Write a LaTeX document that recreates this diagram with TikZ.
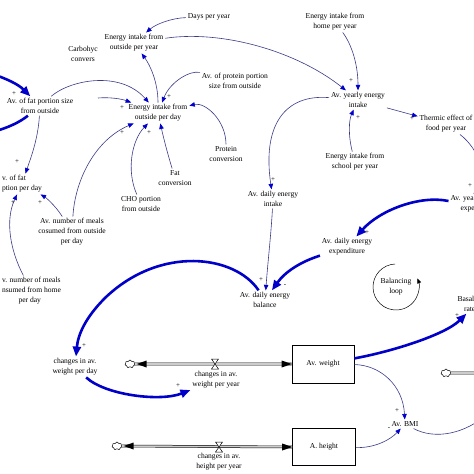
\documentclass[tikz,border=0pt]{standalone}
\usepackage{fontspec}
\setmainfont{Liberation Serif}
\usetikzlibrary{arrows.meta,shapes.symbols}
\definecolor{linkc}{HTML}{3A3A8A}
\definecolor{headc}{HTML}{0000CC}
\definecolor{thickc}{HTML}{0000C8}
\begin{document}
\begin{tikzpicture}[x=1bp,y=-1bp,
  lbl/.style={align=center,inner sep=0.5bp,outer sep=1.5bp,font=\fontsize{7.6}{10}\selectfont},
  lbll/.style={lbl,align=left,anchor=west},
  pol/.style={inner sep=0pt,font=\fontsize{7}{8}\selectfont},
  thinlink/.style={draw=linkc,line width=0.6bp,-{Triangle[length=5.5bp,width=4.5bp,color=headc]}},
  thicklink/.style={draw=thickc,line width=2.6bp,-{Triangle[length=10bp,width=8bp,color=thickc]}},
  stockbox/.style={draw,line width=0.6bp,minimum width=62bp,minimum height=38bp,inner sep=0pt,font=\fontsize{7.6}{10}\selectfont},
  pipe/.style={draw=black,double=gray!40,double distance=1.6bp,line width=0.5bp},
  cloudn/.style={cloud,draw,cloud puffs=7,aspect=1.3,minimum width=10bp,minimum height=8bp,inner sep=0pt,line width=0.5bp},
  valve/.style={draw,fill=white,line width=0.5bp}]
\useasboundingbox (0,0) rectangle (474,474);
\clip (0,0) rectangle (474,474);
% nodes
\node[lbl] (dpy) at (209,17) {Days per year};
\node[lbl] (eiopy) at (134,43) {Energy intake from\\outside per year};
\node[lbl] (carb) at (83,54) {Carbohyc\\convers};
\node[lbl] (prot) at (235,81) {Av. of protein portion\\size from outside};
\node[lbl] (eiopd) at (158,113) {Energy intake from\\outside per day};
\node[lbl] (fatsize) at (40,106) {Av. of fat portion size\\from outside};
\node[lbll] (fatday) at (0,184) {v. of fat\\ption per day};
\node[lbl] (mealsout) at (72,232) {Av. number of meals\\cosumed from outside\\per day};
\node[lbll] (mealshome) at (0,291) {v. number of meals\\nsumed from home\\\hspace*{16.5bp}per day};
\node[lbl] (cho) at (141,204) {CHO portion\\from outside};
\node[lbl] (fatconv) at (175,178) {Fat\\conversion};
\node[lbl] (protconv) at (226,154) {Protein\\conversion};
\node[lbl] (eihpy) at (335,22) {Energy intake from\\home per year};
\node[lbl] (ayei) at (358,100) {Av. yearly energy\\intake};
\node[lbl] (thermic) at (446,124) {Thermic effect of\\food per year};
\node[lbl] (eisy) at (355,162) {Energy intake from\\school per year};
\node[lbl] (adei) at (273,199) {Av. daily energy\\intake};
\node[lbll] (aye) at (448.5,204) {Av. yea\\\hspace*{10bp}expe};
\node[lbl] (ade) at (347,247) {Av. daily energy\\expenditure};
\node[lbl] (adeb) at (265,300) {Av. daily energy\\balance};
\node[lbl] (bl) at (396,287) {Balancing\\loop};
\node[lbll] (bmr) at (455.5,304) {Basal\\\hspace*{6.5bp}rate};
\node[lbl] (cwpd) at (75,367) {changes in av.\\weight per day};
\node[lbl] (cwpy) at (216,380) {changes in av.\\weight per year};
\node[lbl] (chpy) at (219,462) {changes in av.\\height per year};
\node[lbl] (bmi) at (405,424) {Av. BMI};
\node[stockbox] (aw) at (323,364) {Av. weight};
\node[stockbox,minimum height=37bp,minimum width=63bp] (ah) at (324,447) {A. height};
\node[cloudn] (cw) at (130,364) {};
\node[cloudn] (ch) at (117,446) {};
\node[cloudn] (cr) at (446,373) {};
\coordinate (vw) at (215,364);
\coordinate (vh) at (219,447);
\coordinate (offr) at (480,373);
\coordinate (j2s) at (98,98);
\coordinate (t1in) at (-8,74);
\coordinate (t1out) at (-8,132);
\coordinate (bmiout) at (492,410);
% pipes
\draw[pipe] (cw.east) -- (aw.west);
\draw[pipe] (ch.east) -- (ah.west);
\draw[pipe] (cr.east) -- (offr);
\fill (cw.east) ++(1.5,0) -- ++(10,-3.5) -- ++(0,7) -- cycle;
\fill (aw.west) -- ++(-10,-3.5) -- ++(0,7) -- cycle;
\fill (ch.east) ++(1.5,0) -- ++(10,-3.5) -- ++(0,7) -- cycle;
\fill (ah.west) -- ++(-10,-3.5) -- ++(0,7) -- cycle;
\draw[valve] (vw) ++(-3.5,-5) -- ++(7,0) -- ++(-7,10) -- ++(7,0) -- cycle;
\draw[valve] (vh) ++(-3.5,-5) -- ++(7,0) -- ++(-7,10) -- ++(7,0) -- cycle;
% thin links
\draw[thinlink] (dpy) .. controls (172,18) and (156,24) .. (eiopy);
\draw[thinlink] (eiopd) .. controls (158,82) and (150,65) .. (eiopy);
\draw[thinlink] (eiopy) .. controls (220,30) and (295,50) .. (ayei);
\draw[thinlink] (eihpy) .. controls (352,45) and (358,65) .. (ayei);
\draw[thinlink] (eisy) .. controls (348,135) and (349,120) .. (ayei);
\draw[thinlink] (ayei) -- (thermic);
\draw[thinlink] (ayei) .. controls (285,94) and (262,125) .. (adei);
\draw[thinlink] (adei) .. controls (271,235) and (268,260) .. (adeb);
\draw[thinlink] (thermic) .. controls (478,148) and (490,178) .. (aye);
\draw[thinlink] (fatsize) .. controls (70,80) and (120,70) .. (eiopd);
\draw[thinlink] (j2s) .. controls (110,97) and (122,99) .. (eiopd);
\draw[thinlink] (prot) .. controls (190,70) and (170,82) .. (eiopd);
\draw[thinlink] (protconv) .. controls (226,120) and (205,102) .. (eiopd);
\draw[thinlink] (fatconv) .. controls (168,155) and (164,140) .. (eiopd);
\draw[thinlink] (cho) .. controls (126,170) and (132,140) .. (eiopd);
\draw[thinlink] (mealsout) .. controls (75,180) and (95,140) .. (eiopd);
\draw[thinlink] (mealsout) .. controls (55,205) and (45,197) .. (fatday);
\draw[thinlink] (fatsize) .. controls (38,140) and (30,160) .. (fatday);
\draw[thinlink] (mealshome) .. controls (10,250) and (5,220) .. (fatday);
\draw[thinlink] (aw) .. controls (380,365) and (403,385) .. (bmi);
\draw[thinlink] (ah) .. controls (375,448) and (390,440) .. (bmi);
\draw[thinlink] (bmi) .. controls (435,440) and (465,434) .. (bmiout);
% thick links
\draw[thicklink] (t1in) .. controls (5,78) and (18,84) .. (fatsize.135);
\draw[thicklink,-] (fatsize) .. controls (20,122) and (8,128) .. (t1out);
\draw[thicklink] (aye) .. controls (420,195) and (380,210) .. (ade);
\draw[thicklink] (ade) .. controls (300,262) and (285,272) .. (adeb);
\draw[thicklink] (adeb) .. controls (235,255) and (160,245) .. (105,298) .. controls (85,318) and (78,335) .. (cwpd);
\draw[thicklink] (cwpd) .. controls (105,395) and (160,402) .. (cwpy);
\draw[thicklink] (aw) .. controls (390,352) and (445,335) .. (bmr.south);
% balancing loop arc
\draw[draw=black,line width=0.5bp,-{Triangle[length=5bp,width=4bp]}] (bl.center) ++(268:23) arc[start angle=268,end angle=-22,radius=23];
% polarities
\node[pol] at (14,94) {+};
\node[pol] at (122,108) {+};
\node[pol] at (169,97) {+};
\node[pol] at (122,133) {+};
\node[pol] at (149,133) {+};
\node[pol] at (17,162) {+};
\node[pol] at (13,203) {+};
\node[pol] at (40,203) {+};
\node[pol] at (351,81) {+};
\node[pol] at (358,118) {+};
\node[pol] at (412,119) {+};
\node[pol] at (273,180) {+};
\node[pol] at (261,280) {+};
\node[pol] at (285,286) {-};
\node[pol] at (367,233) {+};
\node[pol] at (84,346) {+};
\node[pol] at (178,386) {+};
\node[pol] at (457,316) {+};
\node[pol] at (397,411) {+};
\node[pol] at (389,429) {-};
\node[pol] at (470,186) {+};
\end{tikzpicture}
\end{document}
